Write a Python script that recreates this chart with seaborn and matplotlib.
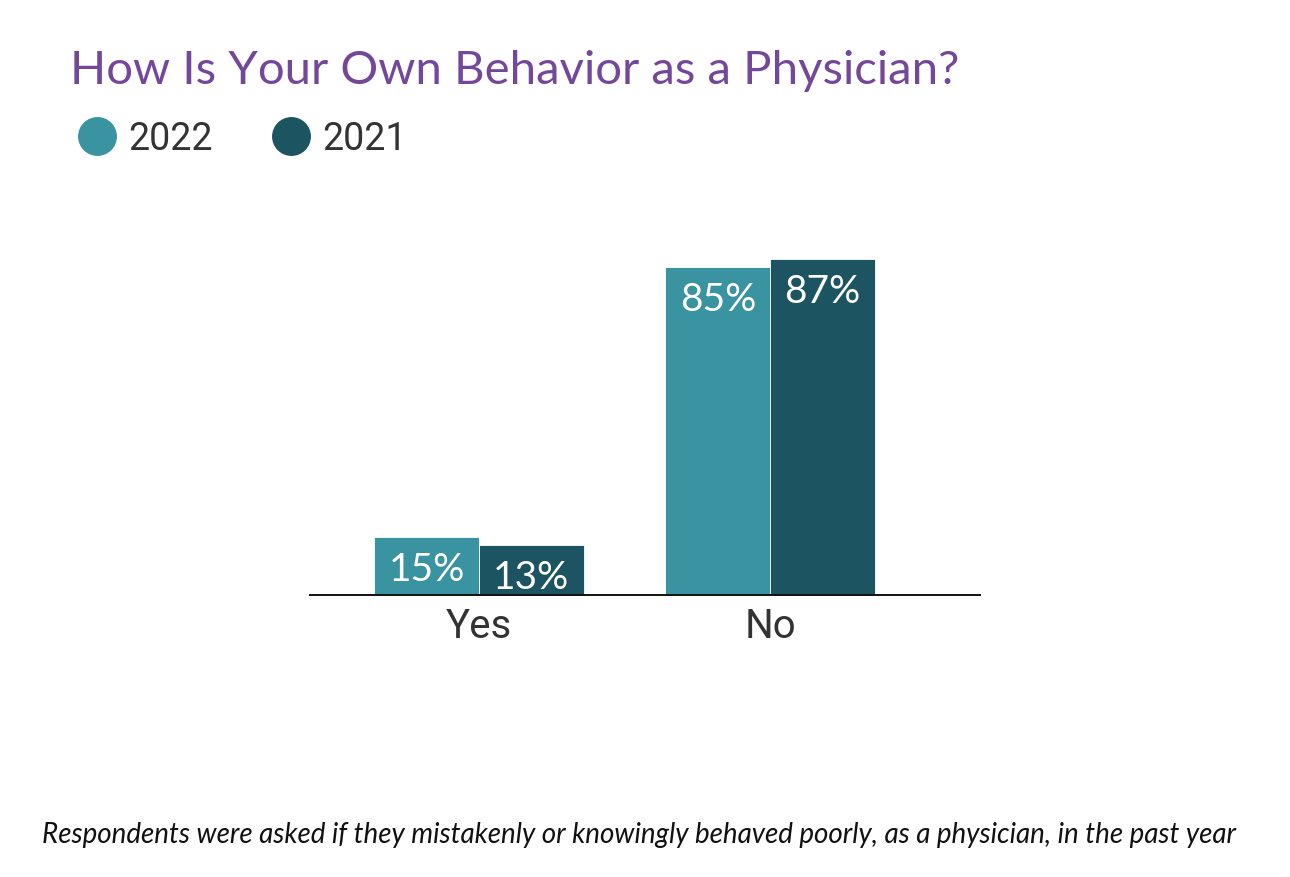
import seaborn as sns
import pandas as pd
import matplotlib.pyplot as plt
from matplotlib.lines import Line2D

# chart data
categories = ['Yes', 'No']
years = ['2022', '2021']
values_2022 = [15, 85]
values_2021 = [13, 87]
colors = {'2022': '#3a93a1', '2021': '#1c5561'}

data = pd.DataFrame({
    'answer': categories * 2,
    'year': [years[0]] * 2 + [years[1]] * 2,
    'pct': values_2022 + values_2021,
})

sns.set_style('white')
plt.rcParams['font.family'] = ['Lato', 'DejaVu Sans']
narrow = ['Roboto', 'DejaVu Sans']

fig = plt.figure(figsize=(12.9, 8.78), dpi=100)
ax = fig.add_axes([310 / 1290, 282 / 878, 670 / 1290, 386 / 878])

sns.barplot(data=data, x='answer', y='pct', hue='year', hue_order=years,
            palette=colors, width=0.72, saturation=1, ax=ax,
            edgecolor='white', linewidth=0.6, legend=False)

ax.set_xlim(-0.58, 1.72)
ax.set_ylim(0, 100)
ax.set_xlabel('')
ax.set_ylabel('')
ax.set_yticks([])
sns.despine(ax=ax, left=True)
ax.spines['bottom'].set_color('#111111')
ax.spines['bottom'].set_linewidth(1.4)
ax.tick_params(axis='x', length=0, pad=8)
for lab in ax.get_xticklabels():
    lab.set_fontfamily(narrow)
    lab.set_fontsize(29)
    lab.set_color('#333333')

# value labels inside the bars
for cont in ax.containers:
    for bar in cont:
        h = bar.get_height()
        ax.annotate(f'{h:.0f}%', (bar.get_x() + bar.get_width() / 2, h),
                    xytext=(0, -10), textcoords='offset points',
                    ha='center', va='top', color='white', fontsize=28)

fig.text(70 / 1290, 1 - 84 / 878, 'How Is Your Own Behavior as a Physician?',
         color='#74479a', fontsize=34, ha='left', va='baseline')

handles = [Line2D([], [], marker='o', linestyle='', markersize=27,
                  markerfacecolor=colors[y], markeredgecolor=colors[y]) for y in years]
leg = fig.legend(handles, years, loc='center left', bbox_to_anchor=(78 / 1290, 1 - 140 / 878),
                 ncol=2, frameon=False, borderpad=0, borderaxespad=0,
                 handlelength=1.0, handletextpad=0.33, columnspacing=1.6,
                 prop={'family': narrow, 'size': 27})
for t in leg.get_texts():
    t.set_color('#333333')

fig.text(42 / 1290, 1 - 835 / 878,
         'Respondents were asked if they mistakenly or knowingly behaved poorly, as a physician, in the past year',
         fontsize=20, style='italic', color='#111111', ha='left', va='center')

fig.savefig('out.png', dpi=100)
